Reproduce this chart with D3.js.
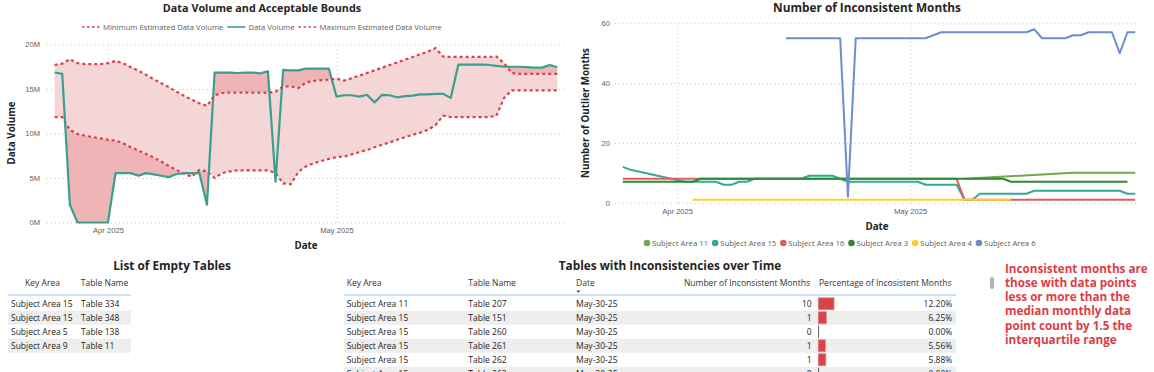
<!DOCTYPE html>
<html>
<head>
<meta charset="utf-8">
<script src="https://cdn.jsdelivr.net/npm/d3@7"></script>
<style>
  body { margin: 0; background: #fff; }
  svg { display: block; font-family: "Segoe UI", "Open Sans", sans-serif; }
</style>
</head>
<body>
<svg id="dash" width="1154" height="372"></svg>
<script>
// ---- data ----
const firstDay = Date.UTC(2025, 2, 25);   // Mar 25 2025
const dayCount = 67;                      // through May 30 2025

// data volume, millions (one value per day)
const dataVolume = [
  16.85, 16.7, 2.0, 0, 0, 0, 0, 0, 5.55, 5.55,
  5.55, 5.25, 5.55, 5.4, 5.25, 5.1, 5.45, 5.55, 5.55, 5.55,
  2.0, 16.85, 16.85, 16.85, 16.8, 16.85, 16.85, 16.75, 17.0, 4.6,
  17.15, 17.1, 17.1, 17.3, 17.3, 17.3, 17.3, 14.15, 14.3, 14.3,
  14.15, 14.35, 13.5, 14.35, 14.3, 14.05, 14.2, 14.25, 14.4, 14.4,
  14.45, 14.45, 14.0, 17.75, 17.75, 17.75, 17.75, 17.7, 17.6, 17.5,
  17.5, 17.5, 17.45, 17.4, 17.4, 17.7, 17.45
];
const minVolume = [
  11.85, 11.85, 10.4, 9.95, 9.75, 9.6, 9.45, 9.3, 9.2, 8.9,
  8.45, 8.1, 7.7, 7.3, 6.85, 6.35, 5.9, 5.45, 5.15, 5.9,
  5.75, 5.0, 5.55, 5.75, 5.85, 5.85, 5.85, 5.85, 5.85, 5.55,
  4.4, 4.3, 5.7, 6.3, 6.65, 6.9, 7.15, 7.35, 7.4, 7.65,
  7.9, 8.15, 8.45, 8.75, 9.0, 9.3, 9.6, 9.85, 10.1, 10.4,
  10.95, 12.0, 11.85, 11.85, 11.85, 11.85, 11.85, 11.85, 12.0, 14.0,
  14.85, 14.85, 14.85, 14.85, 14.85, 14.85, 14.85
];
const maxVolume = [
  17.7, 17.85, 18.35, 17.9, 17.8, 17.8, 17.8, 17.9, 18.15, 17.9,
  17.45, 17.05, 16.6, 16.1, 15.65, 15.2, 14.7, 14.25, 13.8, 13.4,
  13.1, 14.3, 14.55, 14.6, 14.6, 14.6, 14.6, 14.6, 14.6, 14.7,
  15.3, 15.3, 15.1, 15.75, 15.9, 16.0, 16.05, 16.15, 15.95, 16.2,
  16.5, 16.8, 17.1, 17.4, 17.7, 18.0, 18.3, 18.6, 18.9, 19.2,
  19.6, 18.65, 18.6, 18.6, 18.6, 18.6, 18.6, 18.6, 18.65, 17.9,
  16.8, 16.7, 16.7, 16.7, 16.7, 16.7, 16.7
];
const volumeTicks = [0, 5, 10, 15, 20];

// outlier months per subject area (null = no point that day)
const subjectAreas = ["Subject Area 11", "Subject Area 15", "Subject Area 16", "Subject Area 3", "Subject Area 4", "Subject Area 6"];
const areaColors = ["#74a84c", "#36a896", "#e35d5d", "#2d8a35", "#f6d12f", "#6d8fc9"];
const sa11 = [
  null, null, null, null, null, null, null, null, null, null,
  null, null, null, null, null, null, null, null, null, null,
  null, null, null, null, null, null, null, null, null, null,
  null, null, null, null, null, null, null, null, null, null,
  null, null, null, null, 8, null, null, null, null, null,
  null, null, null, null, null, null, null, null, 10, 10,
  10, 10, 10, 10, 10, 10, 10
];
const sa15 = [
  12, 11, null, null, null, null, null, null, 7, 7,
  7, 7, 7, 6, 6, 7, 7, 8, 8, 8,
  8, 8, 8, 8, 9, 9, 9, 9, 8, 7,
  7, 7, 7, 7, 7, 7, 7, 7, 7, 6,
  6, 6, 6, 6, 1, 1, 3, 3, 3, 3,
  3, 3, 3, 4, 4, 4, 4, 4, 4, 4,
  4, 4, 4, 4, 4, 3, 3
];
const sa16 = [
  8, 8, 8, 8, 8, 8, 8, 8, 8, 8,
  8, 8, 8, 8, 8, 8, 8, 8, 8, 8,
  8, 8, 8, 8, 8, 8, 8, 8, 8, 8,
  8, 8, 8, 8, 8, 8, 8, 8, 8, 8,
  8, 8, 8, 8, 1, 1, 1, 1, 1, 1,
  1, 1, 1, 1, 1, 1, 1, 1, 1, 1,
  1, 1, 1, 1, 1, 1, 1
];
const sa3 = [
  7, 7, 7, 7, 7, 7, 7, 7, 7, 7,
  8, 8, 8, 8, 8, 8, 8, 8, 8, 8,
  8, 8, 8, 8, 8, 8, 8, 8, 8, 8,
  8, 8, 8, 8, 8, 8, 8, 8, 8, 8,
  8, 8, 8, 8, 8, 8, 8, 8, 8, 8,
  7, 7, 7, 7, 7, 7, 7, 7, 7, 7,
  7, 7, 7, 7, 7, 7, null
];
const sa4 = [
  null, null, null, null, null, null, null, null, null, 1,
  1, 1, 1, 1, 1, 1, 1, 1, 1, 1,
  1, 1, 1, 1, 1, 1, 1, 1, 1, 1,
  1, 1, 1, 1, 1, 1, 1, 1, 1, 1,
  1, 1, 1, 1, 1, 1, 1, 1, 1, 1,
  1, null, null, null, null, null, null, null, null, null,
  null, null, null, null, null, null, null
];
const sa6 = [
  null, null, null, null, null, null, null, null, null, null,
  null, null, null, null, null, null, null, null, null, null,
  null, 55, 55, 55, 55, 55, 55, 55, 55, 2,
  55, 55, 55, 55, 55, 55, 55, 55, 55, 55,
  56, 57, 57, 57, 57, 57, 57, 57, 57, 57,
  57, 57, 57, 58, 55, 55, 55, 55, 56, 56,
  57, 57, 57, 57, 50, 57, 57
];
const outlierTicks = [0, 20, 40, 60];

// tables
const emptyKeyArea = ["Subject Area 15", "Subject Area 15", "Subject Area 5", "Subject Area 9"];
const emptyTableName = ["Table 334", "Table 348", "Table 138", "Table 11"];

const incKeyArea = ["Subject Area 11", "Subject Area 15", "Subject Area 15", "Subject Area 15", "Subject Area 15", "Subject Area 15"];
const incTableName = ["Table 207", "Table 151", "Table 260", "Table 261", "Table 262", "Table 263"];
const incDate = ["May-30-25", "May-30-25", "May-30-25", "May-30-25", "May-30-25", "May-30-25"];
const incMonths = [10, 1, 0, 1, 1, 0];
const incPct = [12.20, 6.25, 0.00, 5.56, 5.88, 0.00];

const noteLines = [
  "Inconsistent months are",
  "those with data points",
  "less or more than the",
  "median monthly data",
  "point count by 1.5 the",
  "interquartile range"
];

// ---- drawing ----
const svg = d3.select("#dash");
const days = d3.range(dayCount).map(i => new Date(firstDay + i * 864e5));
const apr1 = new Date(Date.UTC(2025, 3, 1));
const may1 = new Date(Date.UTC(2025, 4, 1));
const dateDomain = [new Date(Date.UTC(2025, 2, 24)), new Date(Date.UTC(2025, 4, 31))];
const monthFmt = d3.utcFormat("%b %Y");
const textCol = "#252423";
const tickCol = "#605e5c";

function grid(g) {
  g.select(".domain").remove();
  g.selectAll("text").remove();
  g.selectAll("line").attr("stroke", "#c8c8c8").attr("stroke-dasharray", "1,3");
}
function tickText(g, size) {
  g.select(".domain").remove();
  g.selectAll("text").attr("fill", tickCol).style("font-size", size + "px");
}

// ================= left chart =================
const xL = d3.scaleUtc().domain(dateDomain).range([47, 565]);
const yL = d3.scaleLinear().domain([0, 20]).range([222.5, 44.5]);

svg.append("text").attr("x", 262).attr("y", 8).attr("dy", "0.35em")
  .attr("text-anchor", "middle").attr("font-weight", "bold").attr("fill", textCol)
  .style("font-size", "10.8px").text("Data Volume and Acceptable Bounds");

svg.append("g").attr("transform", "translate(47,0)")
  .call(d3.axisLeft(yL).tickValues(volumeTicks).tickSize(-518)).call(grid);
svg.append("g").attr("transform", "translate(0,222.5)")
  .call(d3.axisBottom(xL).tickValues([apr1, may1]).tickSize(-178)).call(grid);

svg.append("g").attr("transform", "translate(47,0)")
  .call(d3.axisLeft(yL).tickValues(volumeTicks).tickSize(0).tickPadding(7).tickFormat(d => d + "M"))
  .call(g => tickText(g, 7.6));
svg.append("g").attr("transform", "translate(0,222.5)")
  .call(d3.axisBottom(xL).tickValues([apr1, may1]).tickSize(0).tickPadding(5.5).tickFormat(monthFmt))
  .call(g => tickText(g, 7.6));

svg.append("text").attr("transform", "translate(12,133) rotate(-90)").attr("dy", "0.35em")
  .attr("text-anchor", "middle").attr("font-weight", "bold").attr("fill", textCol)
  .style("font-size", "9.8px").text("Data Volume");
svg.append("text").attr("x", 306).attr("y", 246).attr("dy", "0.35em")
  .attr("text-anchor", "middle").attr("font-weight", "bold").attr("fill", textCol)
  .style("font-size", "9.8px").text("Date");

const vol = days.map((d, i) => ({ date: d, v: dataVolume[i], lo: minVolume[i], hi: maxVolume[i] }));

const defs = svg.append("defs");
defs.append("clipPath").attr("id", "belowLo").append("path")
  .attr("d", d3.area().x(d => xL(d.date)).y0(d => yL(d.lo)).y1(260)(vol));
defs.append("clipPath").attr("id", "aboveHi").append("path")
  .attr("d", d3.area().x(d => xL(d.date)).y0(d => yL(d.hi)).y1(30)(vol));

svg.append("path").datum(vol).attr("fill", "#f5d6d7")
  .attr("d", d3.area().x(d => xL(d.date)).y0(d => yL(d.lo)).y1(d => yL(d.hi)));
svg.append("path").datum(vol).attr("fill", "#efb4b6").attr("clip-path", "url(#belowLo)")
  .attr("d", d3.area().x(d => xL(d.date)).y0(d => yL(d.v)).y1(d => yL(d.lo)));
svg.append("path").datum(vol).attr("fill", "#efb4b6").attr("clip-path", "url(#aboveHi)")
  .attr("d", d3.area().x(d => xL(d.date)).y0(d => yL(d.v)).y1(d => yL(d.hi)));

const boundCol = "#d9404a";
const tealCol = "#3a9f8d";
svg.append("path").datum(vol).attr("fill", "none").attr("stroke", boundCol)
  .attr("stroke-width", 2.2).attr("stroke-dasharray", "3,3")
  .attr("d", d3.line().x(d => xL(d.date)).y(d => yL(d.lo)));
svg.append("path").datum(vol).attr("fill", "none").attr("stroke", tealCol)
  .attr("stroke-width", 2.2).attr("stroke-linejoin", "round")
  .attr("d", d3.line().x(d => xL(d.date)).y(d => yL(d.v)));
svg.append("path").datum(vol).attr("fill", "none").attr("stroke", boundCol)
  .attr("stroke-width", 2.2).attr("stroke-dasharray", "3,3")
  .attr("d", d3.line().x(d => xL(d.date)).y(d => yL(d.hi)));

// left legend
const legendL = [
  { name: "Minimum Estimated Data Volume", color: boundCol, dash: "2.5,2.5" },
  { name: "Data Volume", color: tealCol, dash: null },
  { name: "Maximum Estimated Data Volume", color: boundCol, dash: "2.5,2.5" }
];
let lx = 82;
legendL.forEach(item => {
  svg.append("line").attr("x1", lx).attr("x2", lx + 18).attr("y1", 27).attr("y2", 27)
    .attr("stroke", item.color).attr("stroke-width", 1.6)
    .attr("stroke-dasharray", item.dash);
  const t = svg.append("text").attr("x", lx + 21).attr("y", 27).attr("dy", "0.35em")
    .attr("fill", tickCol).style("font-size", "7.7px").text(item.name);
  lx += 21 + t.node().getComputedTextLength() + 4;
});

// ================= right chart =================
const xR = d3.scaleUtc().domain(dateDomain).range([615, 1143]);
const yR = d3.scaleLinear().domain([0, 60]).range([202.7, 23.3]);

svg.append("text").attr("x", 867).attr("y", 8).attr("dy", "0.35em")
  .attr("text-anchor", "middle").attr("font-weight", "bold").attr("fill", textCol)
  .style("font-size", "11.8px").text("Number of Inconsistent Months");

svg.append("g").attr("transform", "translate(615,0)")
  .call(d3.axisLeft(yR).tickValues(outlierTicks).tickSize(-524)).call(grid);
svg.append("g").attr("transform", "translate(0,202.7)")
  .call(d3.axisBottom(xR).tickValues([apr1, may1]).tickSize(-180)).call(grid);

svg.append("g").attr("transform", "translate(615,0)")
  .call(d3.axisLeft(yR).tickValues(outlierTicks).tickSize(0).tickPadding(5))
  .call(g => tickText(g, 7.6));
svg.append("g").attr("transform", "translate(0,202.7)")
  .call(d3.axisBottom(xR).tickValues([apr1, may1]).tickSize(0).tickPadding(5.5).tickFormat(monthFmt))
  .call(g => tickText(g, 7.6));

svg.append("text").attr("transform", "translate(586,113) rotate(-90)").attr("dy", "0.35em")
  .attr("text-anchor", "middle").attr("font-weight", "bold").attr("fill", textCol)
  .style("font-size", "9.8px").text("Number of Outlier Months");
svg.append("text").attr("x", 877).attr("y", 226.5).attr("dy", "0.35em")
  .attr("text-anchor", "middle").attr("font-weight", "bold").attr("fill", textCol)
  .style("font-size", "9.8px").text("Date");

const areaSeries = [sa11, sa15, sa16, sa3, sa4, sa6];
const lineR = d3.line().x(p => xR(p[0])).y(p => yR(p[1]));
areaSeries.forEach((vals, k) => {
  const pts = vals.map((v, i) => [days[i], v]).filter(p => p[1] !== null);
  svg.append("path").datum(pts).attr("fill", "none").attr("stroke", areaColors[k])
    .attr("stroke-width", 2).attr("stroke-linejoin", "round").attr("d", lineR);
});

// right legend
let rx = 647;
subjectAreas.forEach((name, k) => {
  svg.append("circle").attr("cx", rx).attr("cy", 243).attr("r", 3.3).attr("fill", areaColors[k]);
  const t = svg.append("text").attr("x", rx + 5).attr("y", 243).attr("dy", "0.35em")
    .attr("fill", tickCol).style("font-size", "7.75px").text(name);
  rx += 5 + t.node().getComputedTextLength() + 7;
});

// ================= tables =================
const rowTop = 296.8, rowH = 14;
const cellSize = "8.5px";

// list of empty tables
svg.append("text").attr("x", 172).attr("y", 265.5).attr("dy", "0.35em")
  .attr("text-anchor", "middle").attr("font-weight", "bold").attr("fill", textCol)
  .style("font-size", "11.8px").text("List of Empty Tables");
[["Key Area", 42.5], ["Table Name", 104.5]].forEach(h => {
  svg.append("text").attr("x", h[1]).attr("y", 283.5).attr("dy", "0.35em")
    .attr("text-anchor", "middle").attr("fill", "#333").style("font-size", cellSize).text(h[0]);
});
svg.append("line").attr("x1", 8).attr("x2", 131).attr("y1", 295).attr("y2", 295)
  .attr("stroke", "#9fc5ea").attr("stroke-width", 1.2);
emptyKeyArea.forEach((k, i) => {
  const y0 = rowTop + i * rowH;
  if (i % 2 === 1) svg.append("rect").attr("x", 8).attr("y", y0).attr("width", 123).attr("height", rowH).attr("fill", "#eeeeee");
  svg.append("text").attr("x", 11).attr("y", y0 + rowH / 2).attr("dy", "0.35em")
    .attr("fill", textCol).style("font-size", cellSize).text(k);
  svg.append("text").attr("x", 81).attr("y", y0 + rowH / 2).attr("dy", "0.35em")
    .attr("fill", textCol).style("font-size", cellSize).text(emptyTableName[i]);
});

// tables with inconsistencies
svg.append("text").attr("x", 670).attr("y", 265.5).attr("dy", "0.35em")
  .attr("text-anchor", "middle").attr("font-weight", "bold").attr("fill", textCol)
  .style("font-size", "11.8px").text("Tables with Inconsistencies over Time");
const heads = [
  ["Key Area", 346.7, "start"], ["Table Name", 468.3, "start"], ["Date", 576, "start"],
  ["Number of Inconsistent Months", 810, "end"], ["Percentage of Incosistent Months", 819, "start"]
];
heads.forEach(h => {
  svg.append("text").attr("x", h[1]).attr("y", 283.5).attr("dy", "0.35em")
    .attr("text-anchor", h[2]).attr("fill", "#333").style("font-size", cellSize).text(h[0]);
});
svg.append("path").attr("d", "M576.3,290.4L580.3,290.4L578.3,292.8Z").attr("fill", "#444");
svg.append("line").attr("x1", 344).attr("x2", 956).attr("y1", 295).attr("y2", 295)
  .attr("stroke", "#9fc5ea").attr("stroke-width", 1.2);

const pctX = d3.scaleLinear().domain([0, 100]).range([0, 129]);
incKeyArea.forEach((k, i) => {
  const y0 = rowTop + i * rowH;
  const yc = y0 + rowH / 2;
  if (i % 2 === 1) svg.append("rect").attr("x", 344).attr("y", y0).attr("width", 612).attr("height", rowH).attr("fill", "#eeeeee");
  [[k, 346.7], [incTableName[i], 468.3], [incDate[i], 576]].forEach(c => {
    svg.append("text").attr("x", c[1]).attr("y", yc).attr("dy", "0.35em")
      .attr("fill", textCol).style("font-size", cellSize).text(c[0]);
  });
  svg.append("text").attr("x", 811.7).attr("y", yc).attr("dy", "0.35em").attr("text-anchor", "end")
    .attr("fill", textCol).style("font-size", cellSize).text(incMonths[i]);
  svg.append("line").attr("x1", 818.6).attr("x2", 818.6).attr("y1", y0 + 1).attr("y2", y0 + rowH - 1)
    .attr("stroke", "#333").attr("stroke-width", 0.8);
  if (incPct[i] > 0) {
    svg.append("rect").attr("x", 818.3).attr("y", y0 + 1).attr("width", pctX(incPct[i])).attr("height", rowH - 2)
      .attr("fill", "#d9434b").attr("stroke", "#ea8a90").attr("stroke-width", 0.8);
  }
  svg.append("text").attr("x", 952.3).attr("y", yc).attr("dy", "0.35em").attr("text-anchor", "end")
    .attr("fill", textCol).style("font-size", cellSize).text(incPct[i].toFixed(2) + "%");
});

// ================= note =================
svg.append("rect").attr("x", 990).attr("y", 277).attr("width", 4).attr("height", 12).attr("rx", 2).attr("fill", "#b3b3b3");
noteLines.forEach((line, i) => {
  svg.append("text").attr("x", 1005).attr("y", 268.5 + i * 14.3).attr("dy", "0.35em")
    .attr("font-weight", "bold").attr("fill", "#e03c43").style("font-size", "11.7px").text(line);
});
</script>
</body>
</html>
